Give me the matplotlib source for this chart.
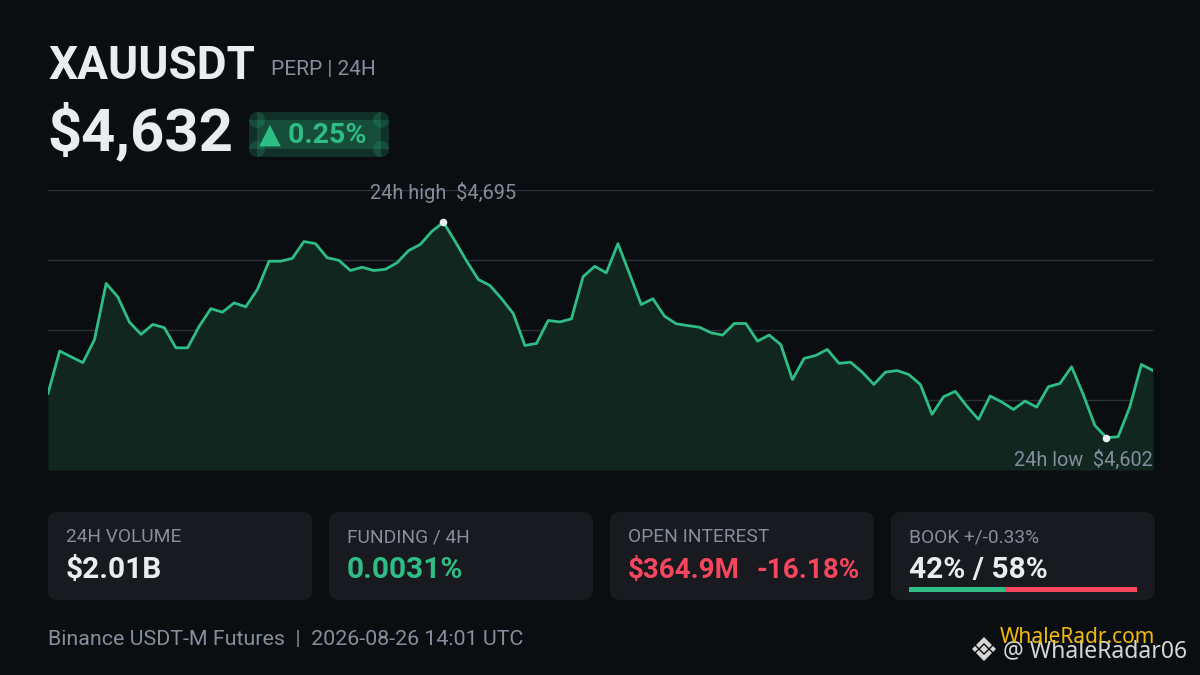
import matplotlib
matplotlib.use("Agg")
import matplotlib.pyplot as plt
from matplotlib.patches import FancyBboxPatch, Rectangle, Circle, Polygon
import numpy as np

plt.rcParams['font.family'] = ['Roboto', 'DejaVu Sans']

# 24h price series, 15 minute steps
prices = [
    4621.1, 4639.4, 4636.9, 4634.4, 4644.4, 4668.6, 4662.8, 4651.9, 4646.6, 4650.9,
    4649.5, 4640.8, 4640.8, 4650.1, 4657.7, 4656.2, 4660.2, 4658.5, 4666.0, 4678.2,
    4678.2, 4679.4, 4686.7, 4685.8, 4679.7, 4678.6, 4674.2, 4675.6, 4674.2, 4674.7,
    4677.5, 4682.8, 4685.4, 4691.1, 4695.0, 4686.8, 4678.2, 4670.3, 4667.7, 4662.0,
    4655.6, 4641.8, 4642.7, 4652.6, 4652.0, 4653.3, 4671.5, 4676.0, 4673.2, 4685.8,
    4672.7, 4659.5, 4662.0, 4654.5, 4651.2, 4650.4, 4649.7, 4647.3, 4646.3, 4651.3,
    4651.3, 4643.7, 4646.3, 4642.2, 4627.1, 4636.2, 4637.5, 4640.1, 4634.1, 4634.6,
    4630.3, 4625.0, 4630.3, 4631.0, 4629.3, 4625.0, 4612.1, 4619.7, 4622.0, 4615.6,
    4609.9, 4620.0, 4617.4, 4614.2, 4617.8, 4615.2, 4624.0, 4625.4, 4632.6, 4620.7,
    4607.3, 4602.0, 4602.4, 4615.2, 4633.6, 4631.0,
]

symbol = "XAUUSDT"
subtitle = "PERP | 24H"
last_price = "$4,632"
change = "▲ 0.25%"
high_label = "24h high  $4,695"
low_label = "24h low  $4,602"

card_labels = ["24H VOLUME", "FUNDING / 4H", "OPEN INTEREST", "BOOK +/-0.33%"]
card_values = ["$2.01B", "0.0031%", "$364.9M", "42% / 58%"]
oi_change = "-16.18%"
bid_share = 0.42

footer = "Binance USDT-M Futures  |  2026-08-26 14:01 UTC"

BG = "#0b0e11"
CARD = "#181a20"
GREEN = "#2ebd85"
RED = "#f6465d"
GREY = "#848e9c"
WHITE = "#eaecef"

fig = plt.figure(figsize=(12, 6.75), dpi=100, facecolor=BG)

# overlay in pixel coords for the card / header stuff
ov = fig.add_axes([0, 0, 1, 1], zorder=0)
ov.set_xlim(0, 1200)
ov.set_ylim(675, 0)
ov.axis("off")
ov.patch.set_visible(False)

# header
ov.text(48, 79, symbol, color=WHITE, fontsize=33, fontweight="bold", va="baseline")
ov.text(271, 75, subtitle, color=GREY, fontsize=15, va="baseline")
ov.text(47, 150, last_price, color=WHITE, fontsize=43, fontweight="bold", va="baseline")

# change pill (overlapping translucent pieces)
pill = dict(color=GREEN, alpha=0.2, lw=0)
ov.add_patch(Rectangle((249, 120), 140, 29, **pill))
ov.add_patch(Rectangle((257, 112), 124, 45, **pill))
for cx in (257, 381):
    for cy in (120, 149):
        ov.add_patch(Circle((cx, cy), 8, **pill))
ov.text(259, 143, change, color=GREEN, fontsize=20.5, fontweight="bold", va="baseline")

# price chart
ax = fig.add_axes([48 / 1200, (675 - 470) / 675, 1105 / 1200, 280 / 675], zorder=1)
ax.set_facecolor("none")
x = np.arange(len(prices))
p = np.array(prices)
lo, hi = p.min(), p.max()
pad = (hi - lo) * 0.15
y0, y1 = lo - pad, hi + pad
ax.set_xlim(0, len(prices) - 1)
ax.set_ylim(y0, y1)
for g in np.linspace(y0, y1, 5):
    ax.axhline(g, color="#2b3139", lw=1, zorder=0)
ax.fill_between(x, p, y0, color="#10261f", lw=0, zorder=1)
ax.plot(x, p, color=GREEN, lw=2, zorder=3, solid_joinstyle="round")
ih, il = p.argmax(), p.argmin()
ax.scatter([ih, il], [p[ih], p[il]], s=30, color=WHITE, zorder=4, lw=0)
ax.annotate(high_label, (ih, p[ih]), xytext=(0, 14), textcoords="offset points",
            ha="center", va="bottom", color=GREY, fontsize=14.3)
ax.text(len(prices) - 1, y0, low_label, color=GREY, fontsize=14.3,
        ha="right", va="bottom")
ax.axis("off")

# stat cards
card_x = [48, 329, 610, 891]
card_w = 264
value_colors = [WHITE, GREEN, RED, WHITE]
value_sizes = [21.5, 21.5, 20, 21.5]
for i, cx in enumerate(card_x):
    ov.add_patch(FancyBboxPatch((cx, 512), card_w, 88,
                                boxstyle="round,pad=0,rounding_size=10",
                                fc=CARD, ec="none"))
    ov.text(cx + 18, 542, card_labels[i], color=GREY, fontsize=13.8, va="baseline")
    t = ov.text(cx + 18, 578, card_values[i], color=value_colors[i], fontsize=value_sizes[i],
                fontweight="bold", va="baseline")
    if i == 2:
        ov.annotate(oi_change, xy=(1, 0), xycoords=t, xytext=(16, 0),
                    textcoords="offset pixels", color=RED, fontsize=value_sizes[i],
                    fontweight="bold", va="bottom")

# book imbalance bar
bx, bw = 909, 228
ov.add_patch(Rectangle((bx, 587), bw * bid_share, 5, color=GREEN, lw=0))
ov.add_patch(Rectangle((bx + bw * bid_share, 587), bw * (1 - bid_share), 5, color=RED, lw=0))

# footer
ov.text(48, 645, footer, color=GREY, fontsize=15.4, va="baseline")

# watermark
lx, ly = 984, 649
logo = "#d6d6d6"
ov.add_patch(Polygon([(lx, ly - 4), (lx + 4, ly), (lx, ly + 4), (lx - 4, ly)], color=logo, lw=0))
for dx in (-9, 9):
    ov.add_patch(Polygon([(lx + dx, ly - 3), (lx + dx + 3, ly), (lx + dx, ly + 3), (lx + dx - 3, ly)],
                         color=logo, lw=0))
ov.add_patch(Polygon([(lx, ly - 12), (lx + 8, ly - 4), (lx + 5, ly - 1), (lx, ly - 6),
                      (lx - 5, ly - 1), (lx - 8, ly - 4)], color=logo, lw=0))
ov.add_patch(Polygon([(lx, ly + 12), (lx + 8, ly + 4), (lx + 5, ly + 1), (lx, ly + 6),
                      (lx - 5, ly + 1), (lx - 8, ly + 4)], color=logo, lw=0))
ov.text(1003, 657, "@ WhaleRadar06", color="#d6d6d6", fontsize=16.5,
        family=["Noto Sans", "DejaVu Sans"], va="baseline")
ov.text(1000, 643, "WhaleRadr.com", color="#f0b90b", fontsize=15,
        fontweight="bold", family=["Noto Sans", "DejaVu Sans"], va="baseline")

fig.savefig("out.png", dpi=100, facecolor=BG)
